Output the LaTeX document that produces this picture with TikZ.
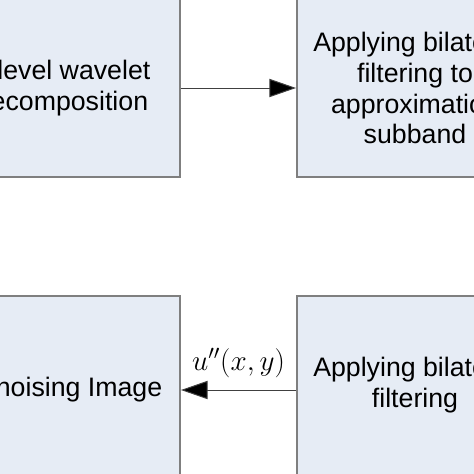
\documentclass[tikz,border=0pt]{standalone}
\usepackage{fontspec}
\setmainfont{Liberation Sans}
\usetikzlibrary{arrows.meta}
\definecolor{boxfill}{HTML}{E6ECF5}
\definecolor{boxline}{HTML}{7F7F7F}
\definecolor{wireline}{HTML}{404040}
\tikzset{
  blockbox/.style={draw=boxline,fill=boxfill,line width=1.4pt,align=center,
    inner sep=0pt,minimum width=236*0.025cm,font=\fontsize{19}{22}\selectfont},
  flowarrow/.style={draw=wireline,line width=0.7pt,
    -{Triangle[length=19pt,width=13pt,fill=black]}}
}
\begin{document}
\begin{tikzpicture}[x=0.025cm,y=-0.025cm]
  \useasboundingbox (0,0) rectangle (474,474);
  \clip (0,0) rectangle (474,474);
  % top row
  \node[blockbox,minimum height=178*0.025cm]
    (decomp) at (62,88) {2-level wavelet\\decomposition};
  \node[blockbox,minimum height=178*0.025cm]
    (approx) at (415,88) {Applying bilateral\\filtering to\\approximation\\subband};
  % bottom row
  \node[blockbox,minimum height=188*0.025cm,text depth=11pt]
    (bilat) at (415,390) {Applying bilateral\\filtering};
  \node[blockbox,minimum height=188*0.025cm]
    (denoise) at (62,390) {Denoising Image};
  % connectors
  \draw[flowarrow] (decomp) -- (approx);
  \draw[flowarrow] (bilat) -- node[above=5pt,font=\fontsize{22}{26}\selectfont]
    {$u''(x,y)$} (denoise);
\end{tikzpicture}
\end{document}
